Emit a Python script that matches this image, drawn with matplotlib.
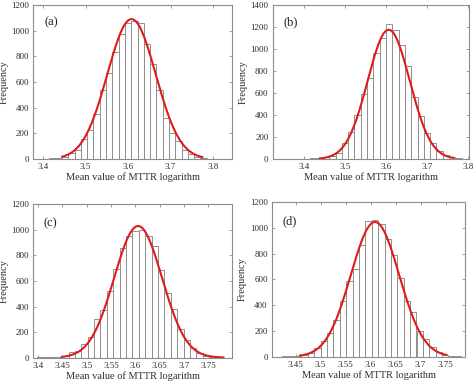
import numpy as np
import matplotlib
matplotlib.use("Agg")
import matplotlib.pyplot as plt

plt.rcParams['font.family'] = ['Liberation Serif', 'DejaVu Serif']

# ---------------- data ----------------
# panel (a)
a_first_edge = 3.4148
a_bin_width = 0.01482
a_counts = [5, 10, 15, 45, 72, 155, 228, 350, 540, 670, 830, 975, 1058, 1075,
            1062, 895, 740, 540, 318, 200, 137, 72, 39, 15, 8]
a_fit_mu, a_fit_sigma, a_fit_peak = 3.6082, 0.0569, 1090
a_fit_range = (3.445, 3.775)

# panel (b)
b_first_edge = 3.4002
b_bin_width = 0.01537
b_counts = [3, 5, 10, 20, 30, 55, 150, 245, 400, 590, 740, 960, 1100, 1225,
            1175, 1035, 850, 560, 392, 236, 150, 70, 40, 18, 5]
b_fit_mu, b_fit_sigma, b_fit_peak = 3.6066, 0.0512, 1175
b_fit_range = (3.439, 3.765)

# panel (c)
c_first_edge = 3.397
c_bin_width = 0.01313
c_counts = [2, 3, 5, 8, 15, 42, 50, 105, 165, 300, 370, 525, 690, 855, 950,
            990, 1000, 950, 875, 685, 505, 380, 225, 140, 78, 35, 12, 5, 2]
c_fit_mu, c_fit_sigma, c_fit_peak = 3.6056, 0.0492, 1030
c_fit_range = (3.449, 3.781)

# panel (d)
d_first_edge = 3.4232
d_bin_width = 0.0128
d_counts = [2, 3, 5, 10, 25, 65, 120, 180, 285, 435, 590, 680, 870, 1055, 1062,
            1030, 915, 790, 610, 435, 345, 200, 135, 75, 37, 16, 5, 3]
d_fit_mu, d_fit_sigma, d_fit_peak = 3.609, 0.0484, 1045
d_fit_range = (3.459, 3.752)

panel_labels = ['(a)', '(b)', '(c)', '(d)']
xlabel_text = 'Mean value of MTTR logarithm'
ylabel_text = 'Frequency'

xticks_a = [3.4, 3.5, 3.6, 3.7, 3.8]
xticks_b = [3.4, 3.5, 3.6, 3.7, 3.8]
xticks_c = [3.4, 3.45, 3.5, 3.55, 3.6, 3.65, 3.7, 3.75]
xticks_d = [3.45, 3.5, 3.55, 3.6, 3.65, 3.7, 3.75]
xticklabels_c = ['3.4', '3.45', '3.5', '3.55', '3.6', '3.65', '3.7', '3.75']
xticklabels_d = ['3.45', '3.5', '3.55', '3.6', '3.65', '3.7', '3.75']

# ---------------- layout ----------------
W, H = 474, 382
fig = plt.figure(figsize=(W / 100, H / 100), dpi=100)

def px_axes(l, t, r, b):
    return fig.add_axes([l / W, 1 - b / H, (r - l) / W, (b - t) / H])

panels = [
    dict(rect=(33.3, 5, 231.7, 159), first=a_first_edge, w=a_bin_width, counts=a_counts,
         mu=a_fit_mu, sig=a_fit_sigma, peak=a_fit_peak, rng=a_fit_range,
         xlim=(3.377, 3.844), ylim=(0, 1200), xticks=xticks_a, xtl=None,
         lab=panel_labels[0], labpos=(0.055, 0.885)),
    dict(rect=(272.7, 5, 469, 159), first=b_first_edge, w=b_bin_width, counts=b_counts,
         mu=b_fit_mu, sig=b_fit_sigma, peak=b_fit_peak, rng=b_fit_range,
         xlim=(3.3237, 3.8024), ylim=(0, 1400), xticks=xticks_b, xtl=None,
         lab=panel_labels[1], labpos=(0.056, 0.886)),
    dict(rect=(33.3, 204.3, 231.7, 357.7), first=c_first_edge, w=c_bin_width, counts=c_counts,
         mu=c_fit_mu, sig=c_fit_sigma, peak=c_fit_peak, rng=c_fit_range,
         xlim=(3.3902, 3.798), ylim=(0, 1200), xticks=xticks_c, xtl=xticklabels_c,
         lab=panel_labels[2], labpos=(0.049, 0.878)),
    dict(rect=(272, 202, 465.3, 356.7), first=d_first_edge, w=d_bin_width, counts=d_counts,
         mu=d_fit_mu, sig=d_fit_sigma, peak=d_fit_peak, rng=d_fit_range,
         xlim=(3.403, 3.7896), ylim=(0, 1200), xticks=xticks_d, xtl=xticklabels_d,
         lab=panel_labels[3], labpos=(0.052, 0.877)),
]

spine_col = '#8c8c8c'
text_col = '#2e2e2e'
bar_edge = '#8f8f8f'
curve_col = '#e01b1b'

for p in panels:
    ax = px_axes(*p['rect'])
    counts = np.array(p['counts'], dtype=float)
    lefts = p['first'] + p['w'] * np.arange(len(counts))
    ax.bar(lefts, counts, width=p['w'], align='edge', facecolor='white',
           edgecolor=bar_edge, linewidth=0.7, zorder=2)
    xs = np.linspace(p['rng'][0], p['rng'][1], 300)
    ys = p['peak'] * np.exp(-0.5 * ((xs - p['mu']) / p['sig']) ** 2)
    ax.plot(xs, ys, color=curve_col, linewidth=1.5, zorder=3)
    ax.set_xlim(*p['xlim'])
    ax.set_ylim(*p['ylim'])
    ax.set_xticks(p['xticks'])
    if p['xtl'] is not None:
        ax.set_xticklabels(p['xtl'])
    ax.set_yticks(np.arange(0, p['ylim'][1] + 1, 200))
    ax.tick_params(direction='in', length=2.5, width=0.6, color=spine_col,
                   labelsize=6.5, labelcolor=text_col, top=True, right=True, pad=3)
    for s in ax.spines.values():
        s.set_color(spine_col)
        s.set_linewidth(0.8)
    ax.set_xlabel(xlabel_text, fontsize=7.5, color=text_col, labelpad=1)
    ax.set_ylabel(ylabel_text, fontsize=7.5, color=text_col, labelpad=2)
    ax.text(p['labpos'][0], p['labpos'][1], p['lab'], transform=ax.transAxes,
            fontsize=9, color='#1e1e1e', ha='left', va='center')

fig.savefig('out.png', dpi=100)
